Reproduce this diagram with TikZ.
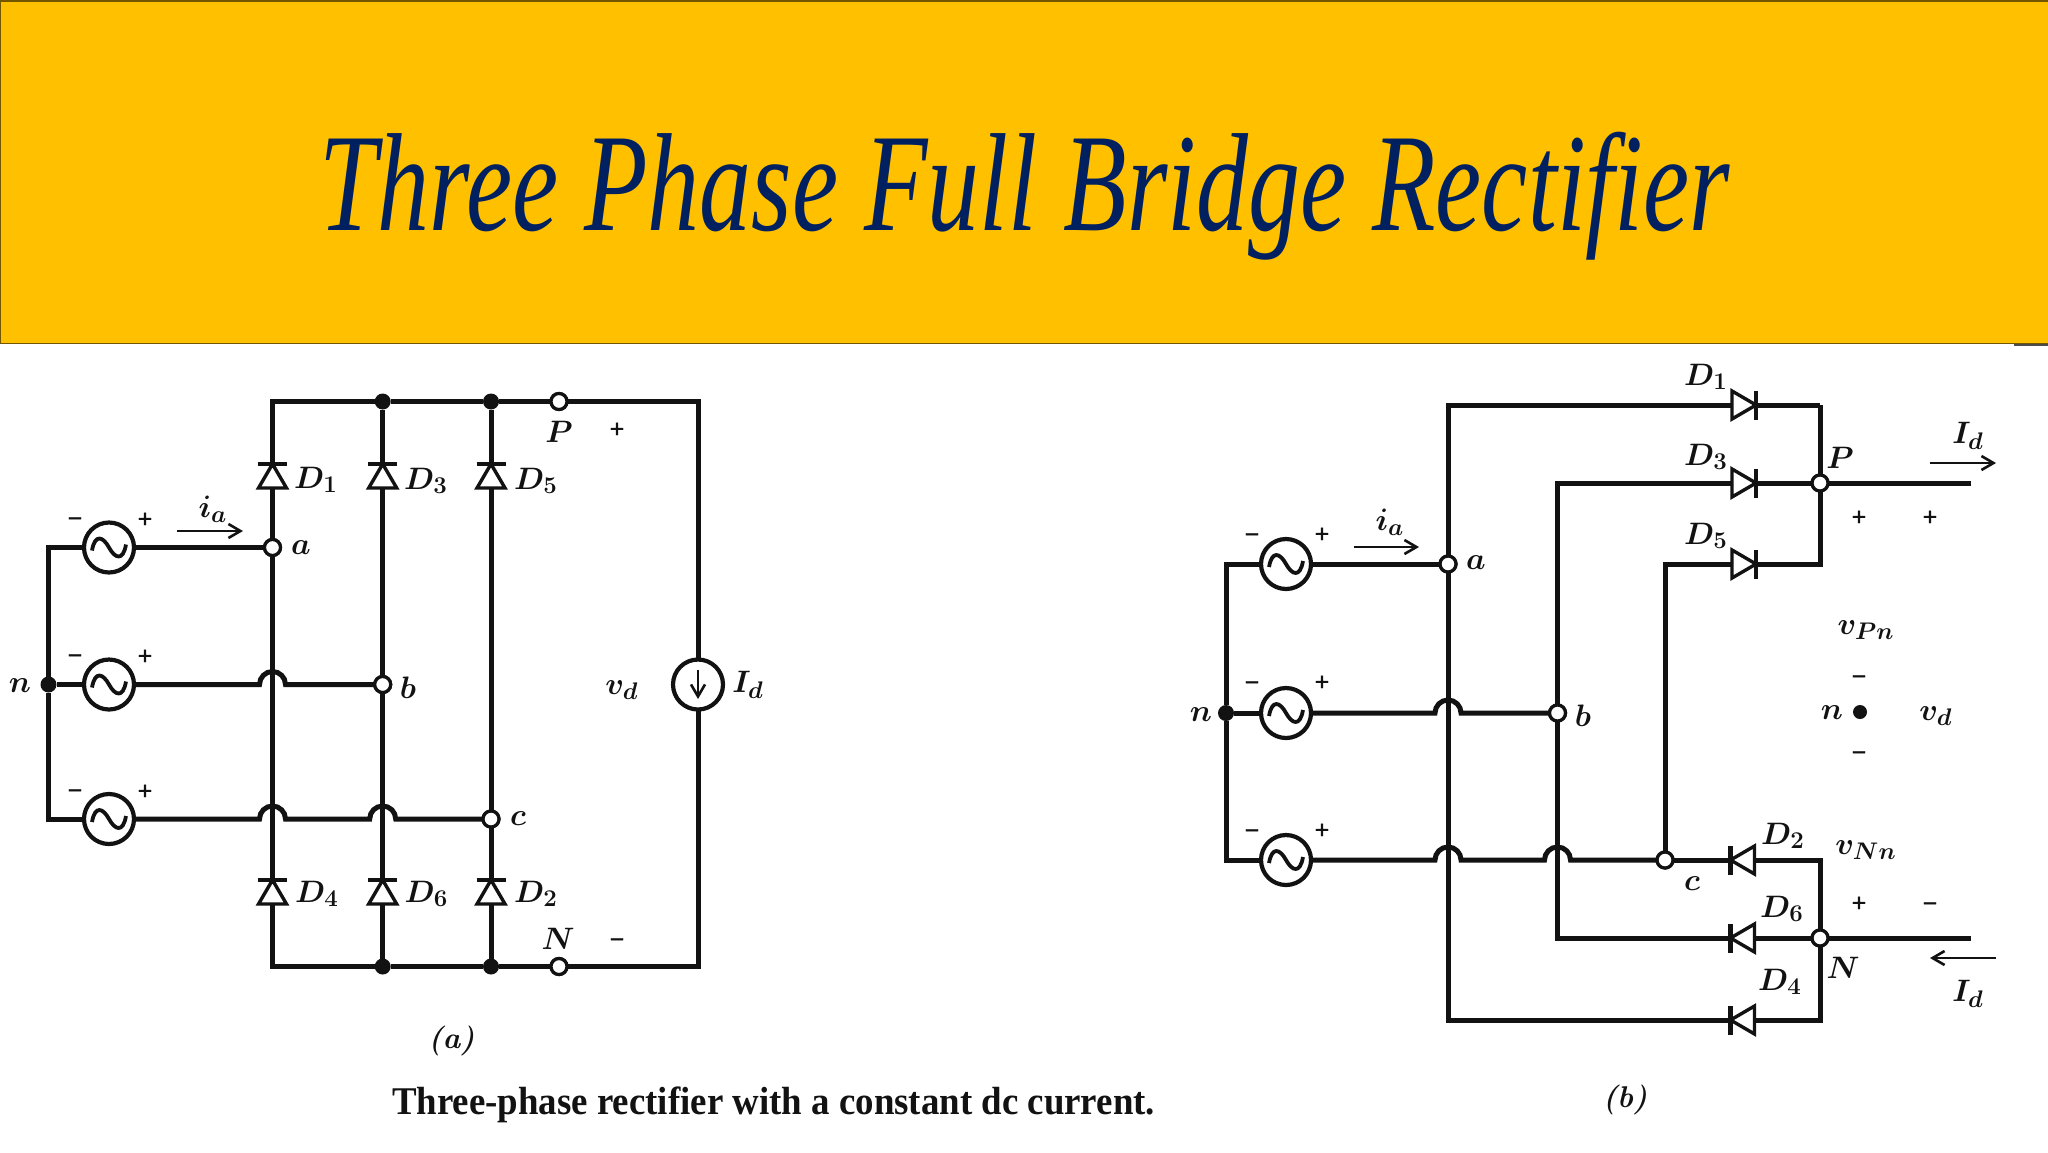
\RequirePackage{fix-cm}
\documentclass[tikz,border=0pt]{standalone}
\usepackage{graphicx}
\usepackage{fontspec}
\newfontfamily\signfont[FakeBold=1]{Liberation Sans}
\newfontfamily\titlefont{Liberation Serif}
\DeclareMathSizes{15.5}{15.5}{12}{9}
\usetikzlibrary{arrows.meta,calc}
\definecolor{banner}{HTML}{FFC000}
\definecolor{titleblue}{HTML}{002060}
\definecolor{ink}{HTML}{121212}
\tikzset{
  wire/.style={draw=ink,line width=2.5pt,line join=miter},
  lbl/.style={text=ink,inner sep=0pt,font=\fontsize{15.5}{18}\selectfont\boldmath},
  sgn/.style={text=ink,inner sep=0pt,font=\fontsize{12.5}{14}\selectfont\signfont},
  subcap/.style={text=ink,inner sep=0pt,font=\fontsize{15}{18}\selectfont\bfseries\itshape},
  term/.style={circle,draw=ink,fill=white,line width=1.6pt,minimum size=8pt,inner sep=0pt,outer sep=0pt},
  jdot/.style={circle,fill=ink,minimum size=8pt,inner sep=0pt,outer sep=0pt},
  src/.style={circle,draw=ink,fill=white,line width=2.1pt,minimum size=25pt,inner sep=0pt,outer sep=0pt,
    path picture={\draw[ink,line width=1.9pt] (path picture bounding box.center) ++(-17,3)
      .. controls +(3,-17) and +(-6,-11) .. ++(17,-3) .. controls +(6,11) and +(-3,17) .. ++(17,-3);}},
  isrc/.style={circle,draw=ink,fill=white,line width=2.1pt,minimum size=25pt,inner sep=0pt,outer sep=0pt},
  curr/.style={draw=ink,line width=1.4pt,-{Straight Barb[length=6pt,width=7pt,line width=1.3pt]}},
  diode/.pic={
    \draw[draw=ink,fill=white,line width=1.7pt,line join=miter] (-12,-14) -- (12,0) -- (-12,14) -- cycle;
    \draw[draw=ink,line width=2.2pt] (12,-14.5) -- (12,14.5);
  }
}
\def\hop#1{-- ([xshift=-6.5pt]#1) arc[start angle=180,end angle=360,radius=13]}
\begin{document}
\begin{tikzpicture}[x=0.5pt,y=-0.5pt]
\useasboundingbox (0,0) rectangle (2048,1152);
\fill[white] (0,0) rectangle (2048,1152);
\draw[fill=banner,draw=black!55!banner,line width=0.8pt] (0.4,0.8) rectangle (2049,343.5);
\coordinate (bara) at (2014,345); \coordinate (barb) at (2048,345);
\draw[draw=black!70,line width=1pt] (bara) -- (barb);
\node[text=titleblue,inner sep=0pt,anchor=center] (title) at (1025,196)
  {\resizebox*{705pt}{64pt}{\titlefont\itshape Three Phase Full Bridge Rectifier}};

% ---------- panel (a)
\coordinate (atl) at (272.5,401.5); \coordinate (atr) at (698,401.5);
\coordinate (abl) at (272.5,966.5); \coordinate (abr) at (698,966.5);
\node[jdot] (at3) at (382.7,401.5) {};
\node[jdot] (at5) at (491,401.5) {};
\node[jdot] (ab6) at (382.7,966.5) {};
\node[jdot] (ab2) at (491,966.5) {};
\node[term] (aP) at (559,401.5) {};
\node[term] (aN) at (559,966.5) {};
\node[term] (aa) at (272.5,547.5) {};
\node[term] (ab) at (382.7,684.5) {};
\node[term] (ac) at (491,819) {};
\coordinate (ad1) at (272.5,476); \coordinate (ad3) at (382.7,476); \coordinate (ad5) at (491,476);
\coordinate (ad4) at (272.5,892); \coordinate (ad6) at (382.7,892); \coordinate (ad2) at (491,892);
\coordinate (axb1) at (272.5,684.5); \coordinate (axc1) at (272.5,819); \coordinate (axc3) at (382.7,819);
\node[src] (asa) at (109,547.5) {};
\node[src] (asb) at (109,684.5) {};
\node[src] (asc) at (109,819) {};
\node[jdot] (an) at (48.5,684.5) {};
\coordinate (alt) at (48.5,547.5); \coordinate (alb) at (48.5,819);
\node[isrc] (aI) at (698,684.5) {};
\coordinate (aIu) at (698,670); \coordinate (aId) at (698,699);

\draw[wire] (aI.north) -- (atr) -- (aP) -- (at5) -- (at3) -- (atl) -- (ad1) -- (aa) -- (ad4) -- (abl) -- (ab6) -- (ab2) -- (aN) -- (abr) -- (aI.south);
\draw[wire] (at3) -- (ad3) -- (ab) -- (ad6) -- (ab6);
\draw[wire] (at5) -- (ad5) -- (ac) -- (ad2) -- (ab2);
\draw[wire] (asa.west) -- (alt) -- (an) -- (alb) -- (asc.west);
\draw[wire] (an) -- (asb.west);
\draw[wire] (asa.east) -- (aa);
\draw[wire] (asb.east) \hop{axb1} -- (ab);
\draw[wire] (asc.east) \hop{axc1} \hop{axc3} -- (ac);
\foreach \d in {ad1,ad3,ad5,ad4,ad6,ad2} \pic[rotate=90] at (\d) {diode};
\node[term] at (aa) {}; \node[term] at (ab) {}; \node[term] at (ac) {};
\node[term] at (aP) {}; \node[term] at (aN) {};
\draw[curr] (aIu) -- (aId);

\node[lbl] (lD1) at (316,480) {$D_1$};
\node[lbl] (lD3) at (426,481) {$D_3$};
\node[lbl] (lD5) at (536,481) {$D_5$};
\node[lbl] (lD4) at (317,894) {$D_4$};
\node[lbl] (lD6) at (426.5,894) {$D_6$};
\node[lbl] (lD2) at (536,894) {$D_2$};
\node[lbl] (la) at (301,548) {$a$};
\node[lbl] (lb) at (408,688) {$b$};
\node[lbl] (lc) at (518,819) {$c$};
\node[lbl] (ln) at (20,686) {$n$};
\node[lbl] (lP) at (559,432) {$P$};
\node[lbl] (lN) at (558,939) {$N$};
\node[sgn] (lpl) at (617,430) {+};
\node[sgn] (lmi) at (617,943) {−};
\node[lbl] (lvd) at (622,690) {$v_d$};
\node[lbl] (lId) at (748,685) {$I_d$};
\node[lbl] (lia) at (213,509) {$i_a$};
\coordinate (aia1) at (177,531); \coordinate (aia2) at (243,531);
\draw[curr] (aia1) -- (aia2);
\node[sgn] (s1) at (75,522) {−}; \node[sgn] (s2) at (145,520) {+};
\node[sgn] (s3) at (75,659) {−}; \node[sgn] (s4) at (145,657) {+};
\node[sgn] (s5) at (75,794) {−}; \node[sgn] (s6) at (145,792) {+};
\node[subcap] (capa) at (451.5,1041) {(a)};
\node[text=ink,inner sep=0pt] (caption) at (773.5,1105)
  {\resizebox*{381.5pt}{18pt}{\titlefont\bfseries Three-phase rectifier with a constant dc current.}};

% ---------- panel (b)
\coordinate (bc1) at (1448,405); \coordinate (bc4) at (1448,1020);
\coordinate (bc3) at (1557.5,483); \coordinate (bc6) at (1557.5,938);
\coordinate (bc5) at (1665,564);
\coordinate (bb1) at (1820,405); \coordinate (bb5) at (1820,564);
\coordinate (bb2) at (1820,860); \coordinate (bb4) at (1820,1020);
\node[term] (bP) at (1820,483) {};
\node[term] (bN) at (1820,938) {};
\coordinate (bPe) at (1971,483); \coordinate (bNe) at (1971,938);
\node[term] (ba) at (1448,564) {};
\node[term] (bb) at (1557.5,713) {};
\node[term] (bcc) at (1665,860) {};
\coordinate (bd1) at (1744,405); \coordinate (bd3) at (1744,483); \coordinate (bd5) at (1744,564);
\coordinate (bd2) at (1742.5,860); \coordinate (bd6) at (1742.5,938); \coordinate (bd4) at (1742.5,1020);
\coordinate (bxb1) at (1448,713); \coordinate (bxc1) at (1448,860); \coordinate (bxc3) at (1557.5,860);
\node[src] (bsa) at (1286,564) {};
\node[src] (bsb) at (1286,713) {};
\node[src] (bsc) at (1286,860) {};
\node[jdot] (bn) at (1226,713) {};
\coordinate (blt) at (1226,564); \coordinate (blb) at (1226,860);
\node[jdot,minimum size=7pt] (bnn) at (1860,712) {};

\draw[wire] (bb1) -- (bd1) -- (bc1) -- (ba) -- (bc4) -- (bd4) -- (bb4) -- (bN) -- (bb2) -- (bd2) -- (bcc) -- (bc5) -- (bd5) -- (bb5) -- (bP) -- (bb1);
\draw[wire] (bPe) -- (bP) -- (bd3) -- (bc3) -- (bb) -- (bc6) -- (bd6) -- (bN) -- (bNe);
\draw[wire] (bsa.west) -- (blt) -- (bn) -- (blb) -- (bsc.west);
\draw[wire] (bn) -- (bsb.west);
\draw[wire] (bsa.east) -- (ba);
\draw[wire] (bsb.east) \hop{bxb1} -- (bb);
\draw[wire] (bsc.east) \hop{bxc1} \hop{bxc3} -- (bcc);
\foreach \d in {bd1,bd3,bd5} \pic at (\d) {diode};
\foreach \d in {bd2,bd6,bd4} \pic[rotate=180] at (\d) {diode};
\node[term] at (ba) {}; \node[term] at (bb) {}; \node[term] at (bcc) {};
\node[term] at (bP) {}; \node[term] at (bN) {};

\node[lbl] (mD1) at (1706,377) {$D_1$};
\node[lbl] (mD3) at (1706,457) {$D_3$};
\node[lbl] (mD5) at (1706,536) {$D_5$};
\node[lbl] (mD2) at (1783,836) {$D_2$};
\node[lbl] (mD6) at (1782,909) {$D_6$};
\node[lbl] (mD4) at (1780,982) {$D_4$};
\node[lbl] (mP) at (1840,458) {$P$};
\node[lbl] (mN) at (1843,968) {$N$};
\node[lbl] (mId1) at (1968,436) {$I_d$};
\node[lbl] (mId2) at (1968,994) {$I_d$};
\coordinate (bi1) at (1930,463); \coordinate (bi2) at (1996,463);
\coordinate (bi3) at (1996,958); \coordinate (bi4) at (1930,958);
\draw[curr] (bi1) -- (bi2);
\draw[curr] (bi3) -- (bi4);
\node[sgn] (t1) at (1859,518) {+}; \node[sgn] (t2) at (1930,518) {+};
\node[lbl] (mvP) at (1866,630) {$v_{Pn}$};
\node[sgn] (t3) at (1859,680) {−};
\node[lbl] (mn2) at (1832,713) {$n$};
\node[lbl] (mvd) at (1936,716) {$v_d$};
\node[sgn] (t4) at (1859,756) {−};
\node[lbl] (mvN) at (1866,850) {$v_{Nn}$};
\node[sgn] (t5) at (1859,904) {+}; \node[sgn] (t6) at (1930,907) {−};
\node[sgn] (u1) at (1252,538) {−}; \node[sgn] (u2) at (1322,535) {+};
\node[sgn] (u3) at (1252,686) {−}; \node[sgn] (u4) at (1322,683) {+};
\node[sgn] (u5) at (1252,834) {−}; \node[sgn] (u6) at (1322,831) {+};
\node[lbl] (mia) at (1390,522) {$i_a$};
\coordinate (bia1) at (1354,547); \coordinate (bia2) at (1419,547);
\draw[curr] (bia1) -- (bia2);
\node[lbl] (ma) at (1476,563) {$a$};
\node[lbl] (mb) at (1583,716) {$b$};
\node[lbl] (mc) at (1692,884) {$c$};
\node[lbl] (mn) at (1201,715) {$n$};
\node[subcap] (capb) at (1625,1100) {(b)};
\end{tikzpicture}
\end{document}
